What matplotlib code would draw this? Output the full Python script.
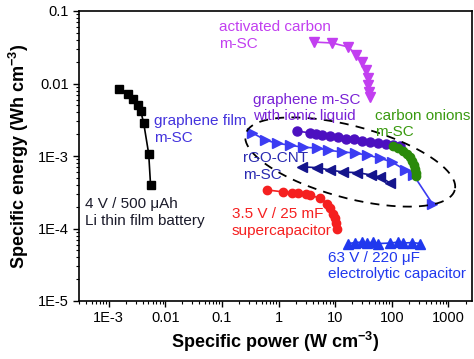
import numpy as np
import matplotlib
matplotlib.use('Agg')
import matplotlib.pyplot as plt
from matplotlib.ticker import FixedLocator, FixedFormatter, LogLocator, NullFormatter

plt.rcParams['font.family'] = ['Liberation Sans', 'DejaVu Sans']
plt.rcParams['mathtext.default'] = 'regular'

# ---- data (W cm-3, Wh cm-3) ----
bat_p = [1.5e-3, 2.17e-3, 2.66e-3, 3.26e-3, 3.68e-3, 4.16e-3, 5.1e-3, 5.5e-3]
bat_e = [8.4e-3, 7.2e-3, 6.1e-3, 5.05e-3, 4.18e-3, 2.85e-3, 1.07e-3, 4.0e-4]

ac_p = [4.25, 8.85, 17, 23.7, 29.2, 34.3, 37.3, 38.5, 40, 41.7]
ac_e = [0.0373, 0.0362, 0.0319, 0.0247, 0.0198, 0.0154, 0.0119, 0.0095, 0.0077, 0.0065]

il_p = [2.12, 3.61, 4.61, 5.89, 8.16, 11.3, 15.7, 21.7, 30.1, 41.6, 57.7, 79.9, 106, 141]
il_e = [2.21e-3, 2.08e-3, 2.01e-3, 1.95e-3, 1.89e-3, 1.83e-3, 1.74e-3, 1.69e-3,
        1.61e-3, 1.56e-3, 1.51e-3, 1.47e-3, 1.42e-3, 1.37e-3]

co_p = [106, 130, 160, 188, 212, 231, 250, 261, 272, 272]
co_e = [1.37e-3, 1.29e-3, 1.17e-3, 1.07e-3, 9.7e-4, 8.5e-4, 7.5e-4, 6.6e-4, 5.8e-4, 5.3e-4]

gf_p = [0.34, 0.58, 0.93, 1.6, 2.7, 4.8, 7.5, 13, 22, 37, 63, 102, 173, 240, 520]
gf_e = [2.1e-3, 1.66e-3, 1.5e-3, 1.41e-3, 1.32e-3, 1.29e-3, 1.2e-3, 1.14e-3, 1.1e-3,
        1.03e-3, 9.3e-4, 8.2e-4, 6.4e-4, 5.5e-4, 2.2e-4]

rg_p = [2.6, 4.8, 8.2, 14, 24.5, 42, 63, 91]
rg_e = [7.1e-4, 6.9e-4, 6.4e-4, 6.0e-4, 5.9e-4, 5.5e-4, 5.1e-4, 4.3e-4]

sc_p = [0.63, 1.2, 1.74, 2.2, 3.0, 3.6, 5.4, 7.2, 8.2, 9.2, 10.0, 10.4, 10.8]
sc_e = [3.4e-4, 3.2e-4, 3.1e-4, 3.1e-4, 3.0e-4, 2.9e-4, 2.6e-4, 2.2e-4, 1.9e-4,
        1.6e-4, 1.4e-4, 1.2e-4, 1.0e-4]

el_p = [17, 22.6, 30, 36.8, 47, 57.7, 94, 130, 160, 231, 319]
el_e = [6.2e-5, 6.4e-5, 6.5e-5, 6.3e-5, 6.5e-5, 6.2e-5, 6.3e-5, 6.5e-5, 6.3e-5, 6.4e-5, 6.2e-5]

x_ticks = [1e-3, 1e-2, 1e-1, 1, 10, 100, 1000]
x_labels = ['1E-3', '0.01', '0.1', '1', '10', '100', '1000']
y_ticks = [1e-5, 1e-4, 1e-3, 1e-2, 1e-1]
y_labels = ['1E-5', '1E-4', '1E-3', '0.01', '0.1']

fig = plt.figure(figsize=(4.74, 3.59), dpi=100)
ax = fig.add_axes([79 / 474, 58 / 359, 393 / 474, 290 / 359])
ax.set_xscale('log')
ax.set_yscale('log')
ax.set_xlim(3e-4, 2600)
ax.set_ylim(1e-5, 0.1)

ax.plot(bat_p, bat_e, '-s', color='black', ms=5.5, lw=1.2)
ax.plot(ac_p, ac_e, '-v', color='#c23ff0', ms=6.5, lw=1.2)
ax.plot(gf_p, gf_e, '->', color='#3c3cf2', ms=6.5, lw=1.2)
ax.plot(rg_p, rg_e, '-<', color='#14148c', ms=6.5, lw=1.2)
ax.plot(il_p, il_e, '-o', color='#4c10c0', ms=6.5, lw=1.2)
ax.plot(co_p, co_e, '-o', color='#2a8a0a', ms=6, lw=1.2)
ax.plot(sc_p, sc_e, '-o', color='#f52020', ms=6, lw=1.2)
ax.plot(el_p, el_e, '-^', color='#2038ee', ms=6.5, lw=1.2)

# dashed ellipse around micro-supercapacitors (drawn in decade space)
t = np.linspace(0, 2 * np.pi, 200)
th = np.radians(15)
a, b = 108, 36
u = a * np.cos(t) * np.cos(th) - b * np.sin(t) * np.sin(th)
v = a * np.cos(t) * np.sin(th) + b * np.sin(t) * np.cos(th)
ax.plot(10 ** (1.265 + u / 56.5), 10 ** (-3.083 - v / 72.5), color='black', lw=1.3,
        dashes=(5, 4))

fs = 11
ax.text(0.0885, 0.046, 'activated carbon\nm-SC', color='#c23ff0', fontsize=fs, va='center')
ax.text(6.25e-3, 2.32e-3, 'graphene film\nm-SC', color='#4433dd', fontsize=fs, va='center')
ax.text(0.354, 4.6e-3, 'graphene m-SC\nwith ionic liquid', color='#7a22d6', fontsize=fs, va='center')
ax.text(51, 2.76e-3, 'carbon onions\nm-SC', color='#3a9a10', fontsize=fs, va='center')
ax.text(0.236, 7.16e-4, 'rGO-CNT\nm-SC', color='#2a2ab0', fontsize=fs, va='center')
ax.text(0.150, 1.21e-4, '3.5 V / 25 mF\nsupercapacitor', color='#f52020', fontsize=fs, va='center')
ax.text(7.5, 3.04e-5, '63 V / 220 \u03bcF\nelectrolytic capacitor', color='#2038ee', fontsize=fs, va='center')
ax.text(3.76e-4, 1.66e-4, '4 V / 500 \u03bcAh\nLi thin film battery', color='#1a1a2a', fontsize=fs, va='center')

ax.xaxis.set_major_locator(FixedLocator(x_ticks))
ax.xaxis.set_major_formatter(FixedFormatter(x_labels))
ax.yaxis.set_major_locator(FixedLocator(y_ticks))
ax.yaxis.set_major_formatter(FixedFormatter(y_labels))
ax.xaxis.set_minor_locator(LogLocator(base=10, subs=np.arange(2, 10), numticks=20))
ax.yaxis.set_minor_locator(LogLocator(base=10, subs=np.arange(2, 10), numticks=20))
ax.xaxis.set_minor_formatter(NullFormatter())
ax.yaxis.set_minor_formatter(NullFormatter())
ax.tick_params(which='major', length=4, width=1, labelsize=10.5, direction='out')
ax.tick_params(which='minor', length=2.5, width=0.8, direction='out')
for s in ax.spines.values():
    s.set_linewidth(1.2)

ax.set_xlabel('Specific power (W cm$^{-3}$)', fontsize=13, fontweight='bold', labelpad=3)
ax.set_ylabel('Specific energy (Wh cm$^{-3}$)', fontsize=13, fontweight='bold', labelpad=5)

fig.savefig('out.png', dpi=100)
